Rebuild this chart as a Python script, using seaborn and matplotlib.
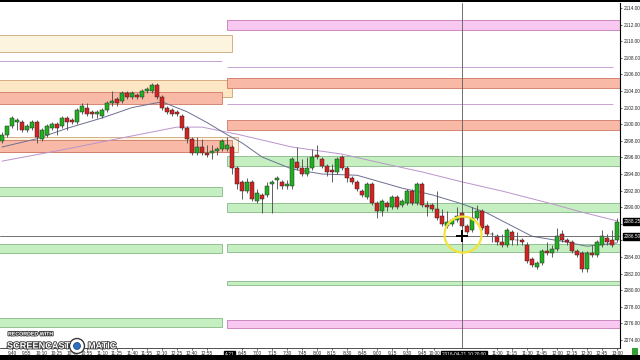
import numpy as np
import pandas as pd
import matplotlib
matplotlib.use("Agg")
import matplotlib.pyplot as plt
import matplotlib.transforms as mtrans
import matplotlib.patheffects as pe
from matplotlib.patches import Rectangle, Ellipse
import seaborn as sns

# ---------------- data (ES 5-minute bars, two sessions) ----------------
opens = [2098.00, 2098.75, 2099.75, 2100.25, 2100.25, 2099.25, 2099.50, 2100.25, 2098.25, 2098.75,
         2099.50, 2100.00, 2099.75, 2100.75, 2100.50, 2100.25, 2101.50, 2102.00, 2101.50, 2101.25,
         2101.00, 2101.75, 2102.50, 2103.00, 2102.75, 2103.75, 2103.25, 2103.50, 2103.25, 2104.00,
         2104.00, 2104.75, 2103.25, 2102.00, 2101.75, 2101.50, 2101.00, 2099.50, 2098.25, 2096.50,
         2097.25, 2096.50, 2096.50, 2096.75, 2097.00, 2097.00,
         2097.25, 2094.75, 2093.00, 2092.00, 2093.00, 2090.75, 2091.50, 2091.50, 2092.75, 2093.25,
         2093.00, 2092.50, 2092.50, 2095.50, 2094.75, 2094.00, 2094.75, 2096.25, 2095.75, 2095.00,
         2094.50, 2094.25, 2096.00, 2094.75, 2093.50, 2093.00, 2092.00, 2091.25, 2092.75, 2090.50,
         2089.50, 2090.50, 2090.00, 2091.25, 2090.25, 2090.50, 2092.00, 2090.50, 2092.75, 2090.25,
         2090.25, 2089.75, 2089.00, 2087.75, 2088.00, 2088.50, 2089.25, 2087.75, 2087.25, 2088.75,
         2089.50, 2087.75, 2086.75, 2086.50, 2085.75, 2085.50, 2087.00, 2086.00, 2086.00, 2085.50,
         2083.75, 2082.75, 2083.25, 2084.75, 2084.50, 2085.00, 2086.75, 2086.00, 2085.75, 2084.75,
         2084.50, 2082.50, 2084.50, 2084.25, 2085.50, 2086.25, 2086.00, 2086.00]
highs = [2099.00, 2099.75, 2101.00, 2100.75, 2100.50, 2100.00, 2100.50, 2100.50, 2099.50, 2100.00,
         2100.25, 2100.25, 2101.00, 2101.00, 2100.75, 2102.00, 2102.50, 2102.50, 2101.75, 2101.75,
         2102.00, 2102.75, 2104.00, 2103.25, 2104.00, 2104.00, 2104.00, 2103.75, 2104.25, 2104.50,
         2105.00, 2105.00, 2103.50, 2102.25, 2102.00, 2101.75, 2101.25, 2099.75, 2098.50, 2098.50,
         2098.25, 2097.50, 2097.50, 2097.25, 2098.25, 2098.50,
         2097.50, 2095.00, 2093.25, 2093.50, 2093.25, 2092.25, 2091.75, 2093.00, 2093.25, 2093.75,
         2093.25, 2093.25, 2096.00, 2097.25, 2095.75, 2096.00, 2097.00, 2097.50, 2096.00, 2095.25,
         2095.25, 2096.00, 2096.25, 2095.00, 2093.75, 2093.25, 2092.25, 2093.00, 2093.00, 2090.75,
         2091.00, 2090.75, 2091.50, 2091.50, 2091.00, 2092.25, 2092.25, 2093.00, 2093.00, 2090.75,
         2090.50, 2092.00, 2089.75, 2089.50, 2088.75, 2090.00, 2089.50, 2088.00, 2090.00, 2090.25,
         2089.75, 2088.00, 2087.00, 2086.75, 2086.75, 2087.50, 2087.25, 2087.00, 2086.25, 2085.75,
         2084.00, 2083.50, 2085.00, 2085.75, 2085.50, 2087.50, 2087.25, 2086.25, 2086.00, 2085.00,
         2084.75, 2084.75, 2085.50, 2086.00, 2087.25, 2086.75, 2087.25, 2088.75]
lows = [2097.75, 2098.50, 2099.50, 2099.25, 2099.00, 2099.00, 2099.25, 2097.75, 2098.00, 2098.50,
        2099.25, 2098.75, 2099.50, 2099.25, 2100.00, 2100.00, 2101.25, 2101.00, 2100.75, 2100.75,
        2100.75, 2101.50, 2102.25, 2102.25, 2102.50, 2103.00, 2103.00, 2103.00, 2103.00, 2103.75,
        2103.75, 2103.00, 2101.75, 2101.25, 2101.00, 2101.00, 2099.25, 2097.75, 2096.25, 2096.25,
        2096.25, 2096.00, 2095.75, 2096.25, 2096.75, 2096.75,
        2094.00, 2092.25, 2091.00, 2091.75, 2090.75, 2090.50, 2089.25, 2091.25, 2089.25, 2092.25,
        2092.25, 2092.25, 2092.25, 2094.50, 2093.75, 2093.75, 2094.50, 2095.75, 2094.75, 2093.75,
        2093.00, 2094.00, 2094.50, 2093.00, 2092.75, 2092.00, 2091.25, 2091.00, 2090.25, 2088.75,
        2089.00, 2089.50, 2089.75, 2089.75, 2090.00, 2090.25, 2090.25, 2090.25, 2090.00, 2089.00,
        2089.50, 2088.50, 2087.75, 2087.50, 2087.75, 2088.25, 2087.50, 2086.75, 2087.00, 2088.50,
        2087.25, 2086.50, 2085.75, 2085.50, 2085.25, 2085.25, 2085.50, 2085.50, 2085.50, 2083.25,
        2082.75, 2082.50, 2083.00, 2084.25, 2084.00, 2084.75, 2085.75, 2085.50, 2084.50, 2084.00,
        2082.25, 2082.25, 2084.00, 2084.00, 2085.25, 2085.50, 2085.25, 2085.75]
closes = [2098.75, 2099.75, 2100.75, 2100.50, 2099.25, 2099.75, 2100.25, 2098.50, 2099.25, 2099.75,
          2100.00, 2099.50, 2100.75, 2100.25, 2100.25, 2101.75, 2102.25, 2101.25, 2101.25, 2101.50,
          2101.75, 2102.50, 2102.75, 2102.50, 2103.75, 2103.25, 2103.75, 2103.25, 2104.00, 2104.25,
          2104.75, 2103.25, 2102.00, 2101.50, 2101.25, 2101.25, 2099.50, 2098.25, 2096.50, 2097.25,
          2096.50, 2096.25, 2096.75, 2097.00, 2098.00, 2097.50,
          2094.75, 2092.75, 2092.00, 2093.00, 2091.00, 2091.75, 2091.00, 2092.50, 2093.00, 2093.50,
          2092.50, 2092.75, 2095.75, 2094.75, 2094.00, 2094.75, 2096.00, 2096.00, 2095.00, 2094.25,
          2094.25, 2095.75, 2094.75, 2093.50, 2093.00, 2092.25, 2091.50, 2092.75, 2090.50, 2089.50,
          2090.75, 2090.00, 2091.25, 2090.00, 2090.75, 2092.00, 2090.50, 2092.75, 2090.25, 2090.00,
          2089.75, 2088.75, 2088.00, 2088.25, 2088.50, 2089.00, 2087.75, 2087.00, 2088.75, 2089.50,
          2087.50, 2086.75, 2086.75, 2085.75, 2085.50, 2087.25, 2086.00, 2086.00, 2085.75, 2083.50,
          2083.00, 2083.25, 2084.75, 2084.50, 2085.00, 2086.50, 2086.00, 2085.75, 2084.75, 2084.25,
          2082.50, 2084.50, 2084.25, 2085.75, 2086.50, 2085.75, 2085.50, 2088.25]

day1_bars = 46            # 9:30 .. 13:15
day1_start = "9:30"
day2_start = "6:35"

# moving averages (bar index, price)
fast_ma_bar = [0, 7, 13, 20, 26, 32, 37, 41, 45, 48, 52, 58, 64, 71, 80, 86, 92, 97, 106, 112, 117, 123]
fast_ma_val = [2097.25, 2098.25, 2099.50, 2100.75, 2102.00, 2102.70, 2101.50, 2100.20, 2098.75, 2097.75,
               2096.05, 2094.60, 2094.00, 2093.85, 2092.30, 2091.50, 2090.40, 2089.30, 2086.50, 2085.90,
               2085.30, 2085.70]
slow_ma_bar = [0, 12, 24, 35, 40, 47, 58, 68, 76, 84, 92, 100, 110, 116, 123]
slow_ma_val = [2095.55, 2096.90, 2098.35, 2099.65, 2099.65, 2098.80, 2097.25, 2096.40, 2095.30,
               2094.25, 2093.05, 2091.95, 2090.40, 2089.40, 2088.35]

# support / resistance zones: (low, high, first bar, last bar, kind)
zones = [
    (2108.75, 2110.75, -2, 46.0, "cream"),
    (2103.25, 2105.30, -2, 46.0, "peach"),
    (2102.45, 2103.85, -2, 44.0, "salmon"),
    (2096.60, 2098.45, -2, 47.2, "cream"),
    (2096.60, 2098.05, -2, 46.0, "salmon"),
    (2091.35, 2092.40, -2, 44.0, "green"),
    (2084.50, 2085.55, -2, 44.0, "green"),
    (2075.55, 2076.65, -2, 44.0, "green"),
    (2111.35, 2112.55, 45, 130, "pink"),
    (2104.35, 2105.55, 45, 130, "salmon"),
    (2099.30, 2100.50, 45, 130, "salmon"),
    (2094.95, 2096.15, 45, 130, "green"),
    (2089.40, 2090.50, 45, 130, "green"),
    (2084.60, 2085.55, 45, 130, "green"),
    (2080.60, 2081.10, 45, 130, "green"),
    (2075.40, 2076.40, 45, 130, "pink"),
]
# thin level lines: (price, first bar, last bar)
levels = [(2107.60, -2, 44.0), (2106.90, 45, 122.2), (2102.45, 45, 122.2)]

# x labels that are visible (10:15 - 10:45 sit under the crosshair date box)
day1_labels = ["9:40", "9:55", "10:10", "10:25", "10:40", "10:55", "11:10", "11:25",
               "11:40", "11:55", "12:10", "12:25", "12:40", "12:55"]
day2_labels = ["6:45", "7:00", "7:15", "7:30", "7:45", "8:00", "8:15", "8:30", "8:45",
               "9:00", "9:15", "9:30", "9:45", "10:00", "11:00",
               "11:15", "11:30", "11:45", "12:00", "12:15", "12:30", "12:45", "13:00"]
y_ticks = list(range(2074, 2116, 2))
cross_bar, cross_price = 92, 2086.50
cross_label = "2016-04-21 10:20:00"
date_label = "4-21"
last_price = 2088.25

# ---------------- styling ----------------
sns.set_theme(style="white")
plt.rcParams["font.family"] = ["Liberation Sans", "DejaVu Sans"]

zone_style = {
    "cream":  ("#fdf4e0", "#caa47a"),
    "peach":  ("#fde6c3", "#d0a070"),
    "salmon": ("#f8baa6", "#cf7866"),
    "green":  ("#c6efc1", "#86b886"),
    "pink":   ("#f8c8f0", "#c67ab8"),
}

fig = plt.figure(figsize=(6.4, 3.6), dpi=100)
fig.patch.set_facecolor("white")
ax = fig.add_axes([0.0, 12 / 360, 620 / 640, 345 / 360])
ax.set_facecolor("white")

for lo, hi, x0, x1, kind in zones:
    fc, ec = zone_style[kind]
    ax.add_patch(Rectangle((x0, lo), x1 - x0, hi - lo, facecolor=fc, edgecolor=ec,
                           linewidth=0.6, zorder=1))
for p, x0, x1 in levels:
    ax.hlines(p, x0, x1, color="#c9a2d4", linewidth=0.7, zorder=1.2)

# moving averages
sns.lineplot(x=slow_ma_bar, y=slow_ma_val, ax=ax, color="#bb94cc", linewidth=0.7,
             legend=False, zorder=2)
sns.lineplot(x=fast_ma_bar, y=fast_ma_val, ax=ax, color="#6c7090", linewidth=0.7,
             legend=False, zorder=2)

# candles
df = pd.DataFrame({"o": opens, "h": highs, "l": lows, "c": closes})
df["bar"] = np.arange(len(df))
df["lo"] = df[["o", "c"]].min(axis=1)
df["size"] = (df["c"] - df["o"]).abs().clip(lower=0.07)
df["col"] = np.where(df["c"] > df["o"], "#1fb01f", "#d42222")
ax.vlines(df["bar"], df["l"], df["h"], color="#454545", linewidth=0.6, zorder=3)
ax.bar(df["bar"], df["size"], bottom=df["lo"], width=0.62, color=df["col"],
       edgecolor="#2b2b2b", linewidth=0.35, zorder=4)

# crosshair
ax.axhline(cross_price, color="#5a5a5a", linewidth=0.6, zorder=5)
ax.axvline(cross_bar, color="#5a5a5a", linewidth=0.6, zorder=5)
ax.add_patch(Ellipse((cross_bar + 0.2, 2086.70), 7.4, 4.35, facecolor="none",
                     edgecolor="#f2e33a", linewidth=1.6, zorder=6))
ax.plot([cross_bar], [cross_price], marker="+", markersize=8, mew=1.4, color="black", zorder=7)

# axes limits
ax.set_xlim(-0.4, 123.6)
ax.set_ylim(2073.04, 2114.60)


def bar_of(label, day):
    h, m = map(int, label.split(":"))
    if day == 1:
        h0, m0 = map(int, day1_start.split(":"))
        return ((h * 60 + m) - (h0 * 60 + m0)) // 5
    h0, m0 = map(int, day2_start.split(":"))
    return day1_bars + ((h * 60 + m) - (h0 * 60 + m0)) // 5


xt = [bar_of(t, 1) for t in day1_labels] + [bar_of(t, 2) for t in day2_labels]
xl = day1_labels + day2_labels
xt = [t - 0.6 if lab == "10:00" else t for t, lab in zip(xt, xl)]
ax.set_xticks(xt)
ax.set_xticklabels(xl, fontsize=3.4, color="#222222")
ax.yaxis.tick_right()
ax.set_yticks(y_ticks)
# 2086 and 2088 labels are covered by the price flags
ax.set_yticklabels(["" if v in (2086, 2088) else f"{v:.2f}" for v in y_ticks],
                   fontsize=3.4, color="#222222")
ax.tick_params(axis="x", length=1.5, width=0.5, pad=1.0, bottom=True)
ax.tick_params(axis="y", length=1.5, width=0.5, pad=1.5, right=True, left=False)
for s in ["left", "top"]:
    ax.spines[s].set_visible(False)
ax.spines["right"].set_color("black")
ax.spines["right"].set_linewidth(0.8)
ax.spines["bottom"].set_color("#333333")
ax.spines["bottom"].set_linewidth(0.6)

# highlighted axis labels
bx = mtrans.blended_transform_factory(ax.transData, ax.transAxes)
by = mtrans.blended_transform_factory(ax.transAxes, ax.transData)
box = dict(boxstyle="square,pad=0.25", facecolor="black", edgecolor="black")
ax.text(45.5, -0.012, date_label, transform=bx, ha="center", va="top", fontsize=3.4,
        color="white", bbox=box, zorder=10, clip_on=False)
ax.text(cross_bar + 0.4, -0.012, cross_label, transform=bx, ha="center", va="top", fontsize=3.4,
        color="white", bbox=box, zorder=10, clip_on=False)
ax.text(1.006, last_price, f"{last_price:.2f}", transform=by, ha="left", va="center",
        fontsize=3.4, color="white", bbox=box, zorder=10, clip_on=False)
ax.text(1.006, cross_price, f"{cross_price:.2f}", transform=by, ha="left", va="center",
        fontsize=3.4, color="white", bbox=box, zorder=10, clip_on=False)

# screen frame pieces
fig.patches.append(Rectangle((0, 0), 1, 5 / 360, transform=fig.transFigure,
                             facecolor="black", edgecolor="none", zorder=20))
fig.patches.append(Rectangle((0, 358 / 360), 1, 2 / 360, transform=fig.transFigure,
                             facecolor="black", edgecolor="none", zorder=20))
fig.patches.append(Rectangle((632 / 640, 5 / 360), 6 / 640, 7 / 360, transform=fig.transFigure,
                             facecolor="#34a034", edgecolor="none", zorder=20))

# recorder watermark
stroke = [pe.withStroke(linewidth=1.3, foreground="#3a3a3a")]
fig.text(8 / 640, 1 - 334 / 360, "RECORDED WITH", fontsize=3.8, weight="bold",
         color="white", va="center", ha="left", path_effects=stroke, zorder=21)
fig.text(7 / 640, 1 - 346 / 360, "SCREENCAST", fontsize=6.6, weight="bold",
         color="white", va="center", ha="left", path_effects=stroke, zorder=21)
fig.text(88 / 640, 1 - 346 / 360, "MATIC", fontsize=6.6, weight="bold",
         color="white", va="center", ha="left", path_effects=stroke, zorder=21)
fig.patches.append(Ellipse((77 / 640, 1 - 346 / 360), 15 / 640, 15 / 360,
                           transform=fig.transFigure, facecolor="white",
                           edgecolor="#3a3a3a", linewidth=1.0, zorder=21))
fig.patches.append(Ellipse((77 / 640, 1 - 346 / 360), 7 / 640, 7 / 360,
                           transform=fig.transFigure, facecolor="#2f6fc0",
                           edgecolor="#1d3f70", linewidth=0.5, zorder=22))

fig.savefig("out.png", dpi=100)
